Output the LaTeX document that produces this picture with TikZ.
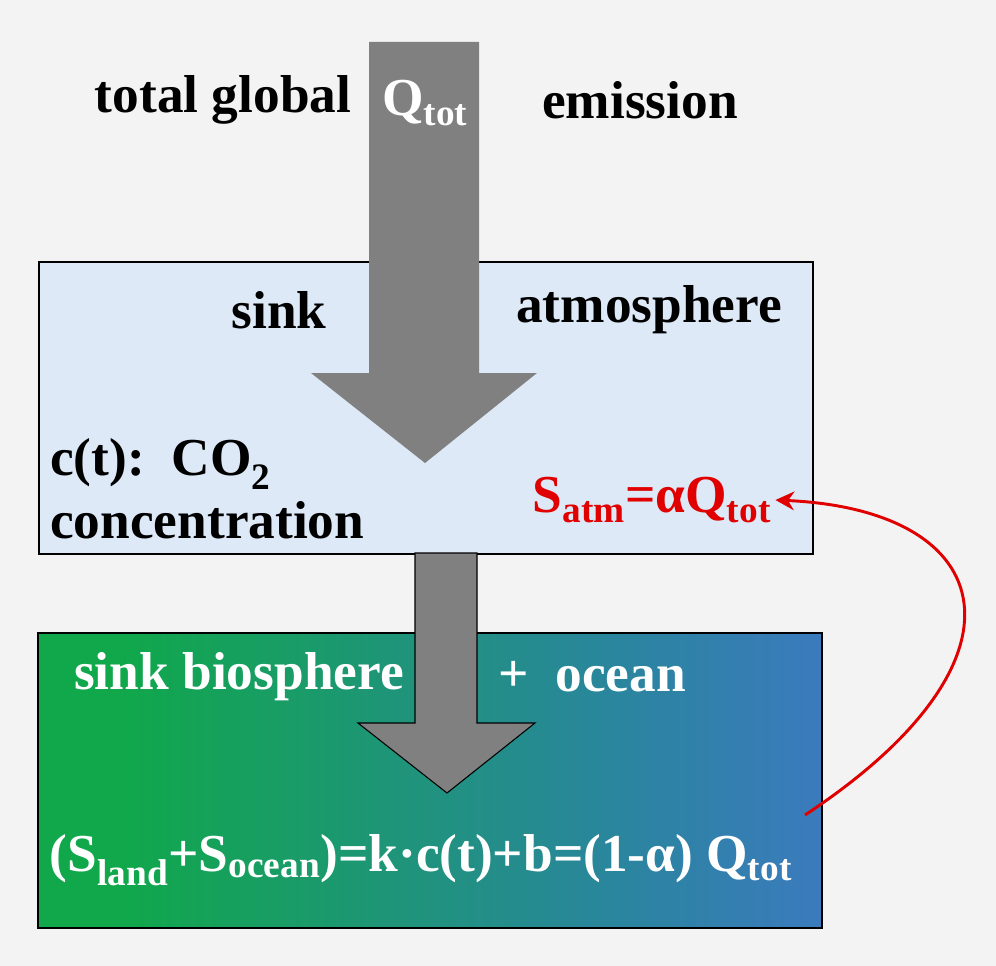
\documentclass[tikz,border=0pt]{standalone}
\usepackage{fontspec}
\setmainfont{Liberation Serif}
\usetikzlibrary{arrows.meta}
\definecolor{bg}{HTML}{F3F3F3}
\definecolor{atm}{HTML}{DDE9F6}
\definecolor{arr}{HTML}{808080}
\definecolor{rd}{HTML}{E00000}
\definecolor{grn}{HTML}{10A84A}
\definecolor{teal}{HTML}{2A859E}
\definecolor{blu}{HTML}{5C66FA}
\pgfdeclarehorizontalshading{sinkshade}{100bp}{color(0bp)=(grn); color(30bp)=(grn); color(62bp)=(teal); color(100bp)=(blu)}
\tikzset{
  lbl/.style={font=\bfseries\fontsize{40}{46}\selectfont, inner sep=0pt},
  wlbl/.style={lbl, text=white},
  rlbl/.style={lbl, text=rd},
}
\begin{document}
\begin{tikzpicture}[x=0.75pt,y=-0.75pt]
\fill[bg] (0,0) rectangle (996,966);
\useasboundingbox (0,0) rectangle (996,966);
% atmosphere box
\node[draw=black, line width=1.5pt, fill=atm, minimum width=774*0.75pt, minimum height=292*0.75pt, anchor=north west, inner sep=0pt] (atmbox) at (38,261) {};
% top arrow
\fill[arr] (369,42) -- (479,42) -- (479,373) -- (537,373) -- (425,463) -- (311,373) -- (369,373) -- cycle;
% bottom box
\shade[shading=sinkshade] (38,633) rectangle (822,928);
\draw[line width=1.5pt] (38,633) rectangle (822,928);
\node[minimum width=784*0.75pt, minimum height=295*0.75pt, anchor=north west, inner sep=0pt] (sinkbox) at (38,633) {};
% second arrow
\draw[fill=arr, line width=0.8pt] (415,553) -- (477,553) -- (477,723) -- (535,723) -- (447,793) -- (358,723) -- (415,723) -- cycle;
% texts
\node[lbl] (tg) at (223,100) {total global};
\node[wlbl] (qt) at (425,103) {Q\textsubscript{tot}};
\node[lbl] (em) at (640,100) {emission};
\node[lbl] (sk) at (279,310) {sink};
\node[lbl] (at) at (649,310) {atmosphere};
\node[lbl, anchor=west] (ct) at (50,464) {c(t):\ \ CO\textsubscript{2}};
\node[lbl, anchor=west] (cc) at (50,520) {concentration};
\node[rlbl] (satm) at (652,500) {S\textsubscript{atm}=αQ\textsubscript{tot}};
\node[wlbl] (sb) at (239,677) {sink biosphere};
\node[wlbl] (oc) at (592,677) {+\ \ ocean};
\node[wlbl] (form) at (421,860) {(S\textsubscript{land}+S\textsubscript{ocean})=k·c(t)+b=(1-α) Q\textsubscript{tot}};
% red feedback arrow
\coordinate (rs) at (805,815);
\draw[rd, line width=2.2pt, -{Stealth[length=14pt,width=14pt]}] (rs) .. controls (1040,660) and (1000,510) .. ([xshift=3pt]satm.east);
\end{tikzpicture}
\end{document}
